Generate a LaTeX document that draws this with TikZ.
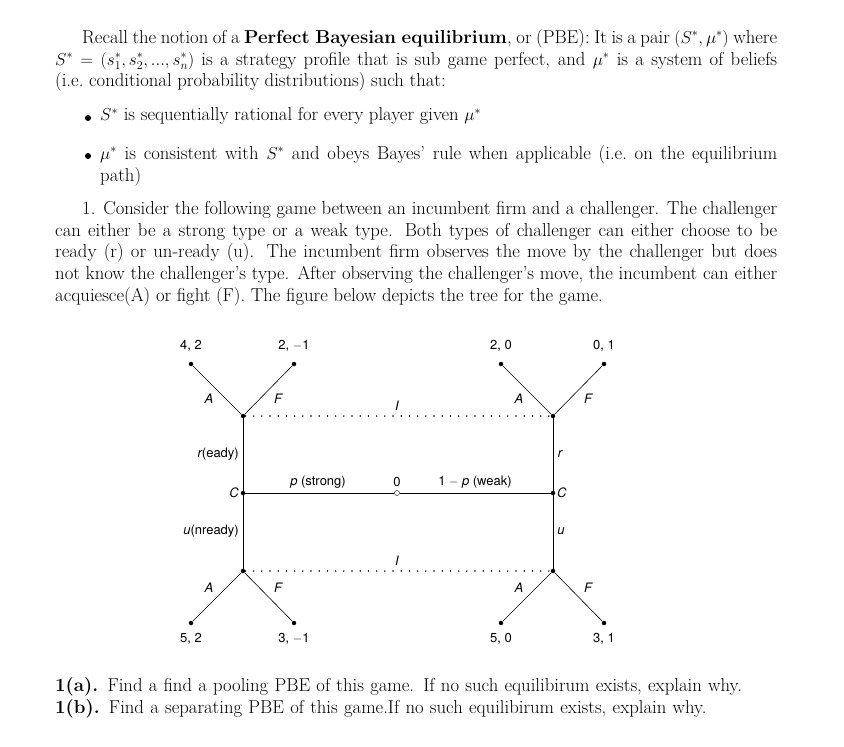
\documentclass[tikz,border=0pt]{standalone}
\usepackage{fontspec}
\newfontfamily\hv{TeX Gyre Heros}
\begin{document}
\begin{tikzpicture}[x=1pt,y=-1pt,
  para/.style={anchor=north west,inner sep=0pt,align=justify,font=\fontsize{18.7}{21.8}\selectfont},
  dot/.style={circle,fill,inner sep=0pt,minimum size=4.5pt},
  bul/.style={circle,fill,inner sep=0pt,minimum size=6pt},
  odot/.style={circle,draw,fill=white,inner sep=0pt,minimum size=5pt},
  lab/.style={font=\hv\fontsize{13}{15}\selectfont,inner sep=1pt},
  edge/.style={line width=0.6pt},
  info/.style={line width=1.7pt,line cap=round,dash pattern=on 0pt off 8.2pt}]
\useasboundingbox (0,0) rectangle (844,747);
\node[para,text width=722pt] (p1) at (55,29) {\hspace*{27pt}Recall the notion of a \textbf{Perfect Bayesian equilibrium}, or (PBE): It is a pair $(S^*,\mu^*)$ where\linebreak $S^*=(s_1^*,s_2^*,...,s_n^*)$ is a strategy profile that is sub game perfect, and $\mu^*$ is a system of beliefs\linebreak (i.e.\ conditional probability distributions) such that:};
\node[bul] (b1) at (88,118) {};
\node[para,text width=677pt] (t1) at (100,107) {$S^*$ is sequentially rational for every player given $\mu^*$};
\node[bul] (b2) at (88,156) {};
\node[para,text width=677pt] (t2) at (100,145) {$\mu^*$ is consistent with $S^*$ and obeys Bayes' rule when applicable (i.e.\ on the equilibrium\linebreak path)};
\node[para,text width=722pt] (p2) at (55,201) {\hspace*{27pt}1. Consider the following game between an incumbent firm and a challenger. The challenger\linebreak can either be a strong type or a weak type. Both types of challenger can either choose to be\linebreak ready (r) or un-ready (u). The incumbent firm observes the move by the challenger but does\linebreak not know the challenger's type. After observing the challenger's move, the incumbent can either\linebreak acquiesce(A) or fight (F). The figure below depicts the tree for the game.};
\node[para,text width=722pt,align=left] (p3) at (55,677) {\textbf{1(a).} Find a find a pooling PBE of this game. If no such equilibirum exists, explain why.\\\textbf{1(b).} Find a separating PBE of this game.If no such equilibirum exists, explain why.};
% tree
\node[odot] (o) at (397,493) {};
\node[dot] (cl) at (243,493) {};
\node[dot] (cr) at (553,493) {};
\node[dot] (tl) at (243,416) {};
\node[dot] (tr) at (553,416) {};
\node[dot] (bl) at (243,571) {};
\node[dot] (br) at (553,571) {};
\node[dot] (l1) at (191,364) {};
\node[dot] (l2) at (294,364) {};
\node[dot] (l3) at (501,364) {};
\node[dot] (l4) at (604,364) {};
\node[dot] (l5) at (191,623) {};
\node[dot] (l6) at (294,623) {};
\node[dot] (l7) at (501,623) {};
\node[dot] (l8) at (604,623) {};
\draw[edge] (o) -- (cl); \draw[edge] (o) -- (cr);
\draw[edge] (cl) -- (tl); \draw[edge] (cl) -- (bl);
\draw[edge] (cr) -- (tr); \draw[edge] (cr) -- (br);
\draw[edge] (tl) -- (l1); \draw[edge] (tl) -- (l2);
\draw[edge] (tr) -- (l3); \draw[edge] (tr) -- (l4);
\draw[edge] (bl) -- (l5); \draw[edge] (bl) -- (l6);
\draw[edge] (br) -- (l7); \draw[edge] (br) -- (l8);
\draw[info] (tl) -- (tr);
\draw[info] (bl) -- (br);
\node[lab] (v1) at (191,346) {4, 2};
\node[lab] (v2) at (294,346) {2, $-$1};
\node[lab] (v3) at (501,346) {2, 0};
\node[lab] (v4) at (604,346) {0, 1};
\node[lab] (v5) at (191,639) {5, 2};
\node[lab] (v6) at (294,639) {3, $-$1};
\node[lab] (v7) at (501,639) {5, 0};
\node[lab] (v8) at (604,639) {3, 1};
\node[lab] (a1) at (209,399) {\itshape A};
\node[lab] (f1) at (278,399) {\itshape F};
\node[lab] (a2) at (519,399) {\itshape A};
\node[lab] (f2) at (588,399) {\itshape F};
\node[lab] (a3) at (209,588) {\itshape A};
\node[lab] (f3) at (278,588) {\itshape F};
\node[lab] (a4) at (519,588) {\itshape A};
\node[lab] (f4) at (588,588) {\itshape F};
\node[lab] (i1) at (397,406) {\itshape I};
\node[lab] (i2) at (397,561) {\itshape I};
\node[lab,anchor=east] (re) at (240,454) {\itshape r\upshape(eady)};
\node[lab,anchor=east] (ur) at (240,531) {\itshape u\upshape(nready)};
\node[lab] (r2) at (560,454) {\itshape r};
\node[lab] (u2) at (561,531) {\itshape u};
\node[lab,anchor=east] (c1) at (240,493) {\itshape C};
\node[lab,anchor=west] (c2) at (556,493) {\itshape C};
\node[lab] (ps) at (318,482) {\itshape p\upshape\ (strong)};
\node[lab] (pw) at (475,482) {1 $-$ \itshape p\upshape\ (weak)};
\node[lab] (z) at (397,482) {0};
\end{tikzpicture}
\end{document}
